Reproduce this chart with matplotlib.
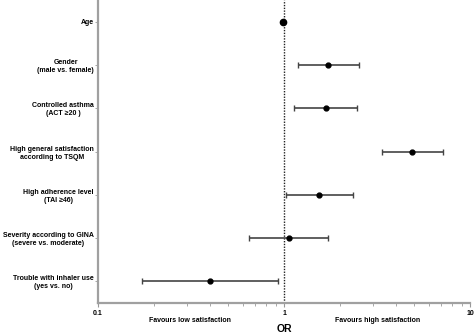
import matplotlib
matplotlib.use("Agg")
import matplotlib.pyplot as plt
import numpy as np
from matplotlib.ticker import LogLocator, NullFormatter

labels = ["Age",
          "Gender\n(male vs. female)",
          "Controlled asthma\n(ACT \u226520 )",
          "High general satisfaction\naccording to TSQM",
          "High adherence level\n(TAI \u226546)",
          "Severity according to GINA\n(severe vs. moderate)",
          "Trouble with inhaler use\n(yes vs. no)"]
odds = [0.98, 1.72, 1.67, 4.86, 1.54, 1.06, 0.40]
ci_low = [0.97, 1.19, 1.13, 3.35, 1.02, 0.65, 0.173]
ci_high = [0.99, 2.51, 2.45, 7.10, 2.34, 1.72, 0.925]
xticks = [0.1, 1, 10]
xticklabels = ["0.1", "1", "10"]

plt.rcParams['font.family'] = ['Liberation Sans', 'DejaVu Sans']
fig = plt.figure(figsize=(4.74, 3.35), dpi=100)
ax = fig.add_axes([0.207, 0.0955, 0.785, 0.9045])

n = len(labels)
ypos = np.arange(n, 0, -1)
odds_a = np.array(odds); lo = np.array(ci_low); hi = np.array(ci_high)
for i in range(n):
    if i == 0:
        ax.plot(odds_a[i], ypos[i], 'o', color='black', ms=4.5, zorder=3)
    else:
        ax.errorbar(odds_a[i], ypos[i],
                    xerr=[[odds_a[i] - lo[i]], [hi[i] - odds_a[i]]],
                    fmt='o', color='black', ms=3.5, ecolor='#444444',
                    elinewidth=1.2, capsize=2.2, capthick=1.0, zorder=3)

ax.axvline(1, color='#222222', linestyle=(0, (1, 1)), linewidth=1.0, zorder=2)

ax.set_xscale('log')
ax.set_xlim(0.1, 10)
ax.set_ylim(0.5, 7.5)
ax.set_yticks(ypos)
ax.set_yticklabels(labels, fontsize=5.0, fontweight='bold', ha='right',
                   multialignment='center')
ax.set_xticks(xticks)
ax.set_xticklabels(xticklabels, fontsize=5, fontweight='bold')
ax.xaxis.set_minor_locator(LogLocator(base=10, subs=np.arange(2, 10)))
ax.xaxis.set_minor_formatter(NullFormatter())
ax.tick_params(axis='x', which='major', length=3, width=0.8, color='#999999', pad=2)
ax.tick_params(axis='x', which='minor', length=2, width=0.6, color='#999999')
ax.tick_params(axis='y', length=2, width=0.6, color='#999999', pad=1)

for s in ['top', 'right']:
    ax.spines[s].set_visible(False)
for s in ['left', 'bottom']:
    ax.spines[s].set_color('#a0a0a0')
    ax.spines[s].set_linewidth(1.6)

fig.text(190/474, 1 - 321/335, "Favours low satisfaction", fontsize=5,
         fontweight='bold', ha='center', va='center')
fig.text(378/474, 1 - 321/335, "Favours high satisfaction", fontsize=5,
         fontweight='bold', ha='center', va='center')
fig.text(284/474, 1 - 329/335, "OR", fontsize=7.5, fontweight='bold',
         ha='center', va='center')

fig.savefig("out.png", dpi=100)
